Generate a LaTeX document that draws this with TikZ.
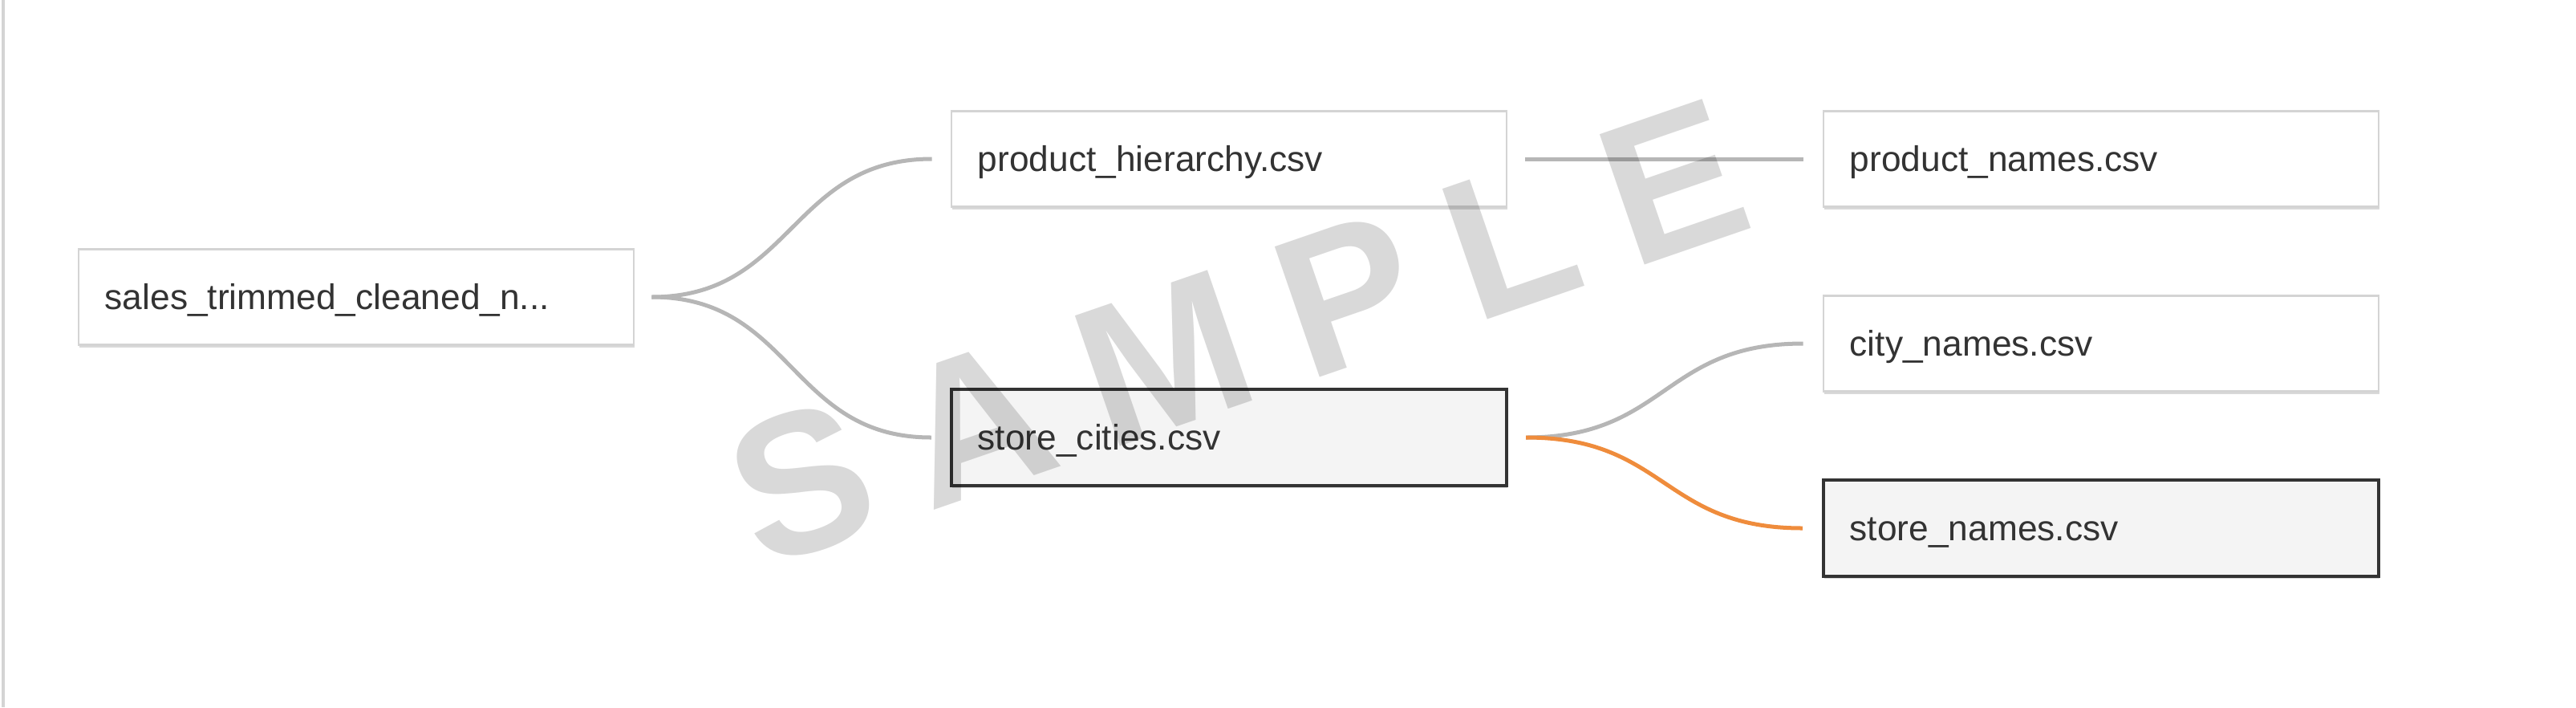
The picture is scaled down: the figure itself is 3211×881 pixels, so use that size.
\documentclass[tikz,border=0pt]{standalone}
\usepackage{fontspec}
\setmainfont{Liberation Sans}
\usepackage{tikz}
\usetikzlibrary{positioning,calc,shadows}

\definecolor{boxLine}{RGB}{212,212,212}
\definecolor{selLine}{RGB}{51,51,51}
\definecolor{selFill}{RGB}{244,244,244}
\definecolor{linkGray}{RGB}{182,182,182}
\definecolor{linkOrange}{RGB}{239,140,60}
\definecolor{textGray}{RGB}{51,51,51}
\definecolor{markGray}{RGB}{217,217,217}

\tikzset{
    table/.style={draw=boxLine, line width=0.025cm, fill=white, text=textGray,
        minimum height=1.19cm, text width=6.26cm, inner xsep=0.33cm, align=left,
        text height=0.32cm, text depth=0.02cm,
        font=\fontsize{12.6}{15}\selectfont,
        drop shadow={shadow xshift=0.01cm, shadow yshift=-0.035cm, opacity=0.15, fill=black}},
    selected/.style={table, draw=selLine, line width=0.04cm, fill=selFill},
    link/.style={draw=linkGray, line width=0.05cm},
    picked/.style={draw=linkOrange, line width=0.05cm},
}

\begin{document}
\begin{tikzpicture}[x=0.01cm,y=-0.01cm]
        \useasboundingbox (0,0) rectangle (3211,881);

        % frame line at the left
        \coordinate (frameTop) at (4,0);
        \coordinate (frameBot) at (4,881);
        \draw[draw=boxLine, line width=0.03cm] (frameTop) -- (frameBot);

        % first level
        \node[table] (salesBox) at (444,370) {sales\_trimmed\_cleaned\_n...};

        % second level
        \node[table] (prodHier) at (1532,198) {product\_hierarchy.csv};
        \node[selected] (storeCities) at (1532,545) {store\_cities.csv};

        % third level
        \node[table] (prodNames) at (2619,198) {product\_names.csv};
        \node[table] (cityNames) at (2619,428) {city\_names.csv};
        \node[selected] (storeNames) at (2619,658) {store\_names.csv};

        % links from the first level
        \draw[link] ([xshift=0.21cm]salesBox.east) .. controls +(176,0) and +(-176,0) .. ([xshift=-0.23cm]prodHier.west);
        \draw[link] ([xshift=0.21cm]salesBox.east) .. controls +(176,0) and +(-176,0) .. ([xshift=-0.23cm]storeCities.west);

        % links from the second level
        \draw[link] ([xshift=0.22cm]prodHier.east) -- ([xshift=-0.24cm]prodNames.west);
        \draw[link] ([xshift=0.22cm]storeCities.east) .. controls +(175,0) and +(-175,0) .. ([xshift=-0.24cm]cityNames.west);
        \draw[picked] ([xshift=0.22cm]storeCities.east) .. controls +(175,0) and +(-175,0) .. ([xshift=-0.24cm]storeNames.west);

        % ================== watermark ==================
        \node[text=markGray, blend mode=multiply, inner sep=0pt, anchor=base west, rotate=19,
            font=\fontsize{71}{71}\selectfont\bfseries] (sampleMark) at (948,710)
            {S\kern.22em A\kern.22em M\kern.22em P\kern.22em L\kern.22em E};
        % ===============================================
    \end{tikzpicture}
\end{document}
